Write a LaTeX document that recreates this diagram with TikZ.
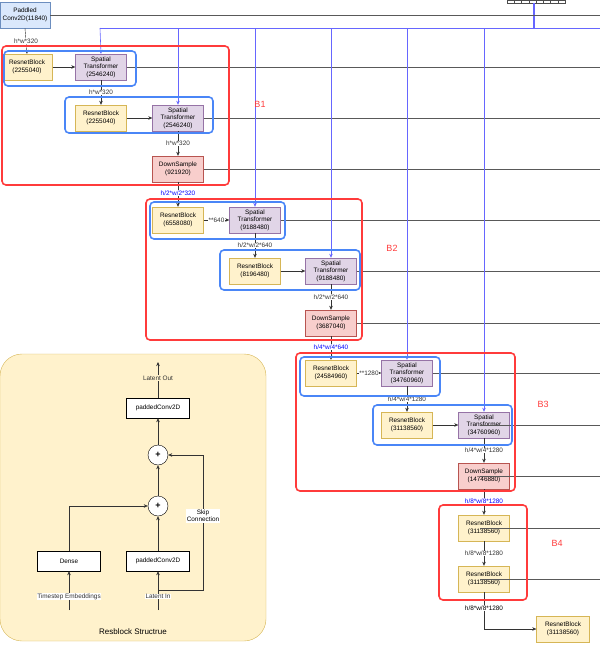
\documentclass[tikz,border=0pt]{standalone}
\usepackage{fontspec}
\setmainfont{Liberation Sans}
\usetikzlibrary{arrows.meta}
\definecolor{rbf}{HTML}{FFF2CC}\definecolor{rbd}{HTML}{D6B656}
\definecolor{stf}{HTML}{E1D5E7}\definecolor{std}{HTML}{9673A6}
\definecolor{dsf}{HTML}{F8CECC}\definecolor{dsd}{HTML}{B85450}
\definecolor{pcf}{HTML}{DAE8FC}\definecolor{pcd}{HTML}{6C8EBF}
\definecolor{redb}{HTML}{FF3B3B}\definecolor{blueb}{HTML}{4A86F7}\definecolor{bl}{HTML}{6666FF}
\begin{document}
\begin{tikzpicture}[x=1pt,y=-1pt,
 box/.style={draw,minimum width=51pt,minimum height=26pt,inner sep=0pt,align=center,font=\fontsize{6.4}{7.6}\selectfont},
 rb/.style={box,fill=rbf,draw=rbd},
 st/.style={box,fill=stf,draw=std},
 ds/.style={box,fill=dsf,draw=dsd},
 arr/.style={-{Stealth[length=4pt,width=3.5pt]},black!80},
 gl/.style={gray!70!black,line width=0.6pt},
 bll/.style={bl,line width=0.6pt},
 lab/.style={font=\fontsize{6.4}{7.4}\selectfont,fill=white,inner sep=0.5pt},
 blab/.style={font=\fontsize{6.4}{7.4}\selectfont,text=blue,fill=white,inner sep=0.5pt},
 red/.style={draw=redb,line width=1.6pt,rounded corners=4pt},
 blu/.style={draw=blueb,line width=1.6pt,rounded corners=4pt},
 wb/.style={draw,fill=white,minimum width=63pt,minimum height=20pt,inner sep=0pt,font=\fontsize{6.4}{7.4}\selectfont},
 pl/.style={draw,fill=white,circle,minimum size=20pt,inner sep=0pt,font=\bfseries\small}]
\useasboundingbox (0,0) rectangle (600,646);
% top grid
\foreach \i in {0,...,7}{\draw[black!70,line width=0.4pt] (507+\i*7.25,0) rectangle ++(7.25,3);}
\coordinate (gb) at (534,3);
\draw[bl,line width=2pt] (gb) -- (534,28);
\draw[bll] (100,28) -- (600,28);
% padded
\node[box,fill=pcf,draw=pcd,minimum width=50pt] (pc) at (25,15) {Paddled\\Conv2D(11840)};
\draw[gl] (pc.east) -- (600,15);
% feature lines
\foreach \y in {67,118,169,220,271,323,373,425,476,528,579}{\draw[gl] (480,\y) -- (600,\y);}
% B1
\node[rb] (r11) at (27,67) {ResnetBlock\\(2255040)};
\node[st] (s11) at (101,67) {Spatial\\Transformer\\(2546240)};
\node[rb] (r12) at (101,118) {ResnetBlock\\(2255040)};
\node[st] (s12) at (178,118) {Spatial\\Transformer\\(2546240)};
\node[ds] (d1) at (178,169) {DownSample\\(921920)};
% B2
\node[rb] (r21) at (178,220) {ResnetBlock\\(6558080)};
\node[st] (s21) at (255,220) {Spatial\\Transformer\\(9188480)};
\node[rb] (r22) at (255,271) {ResnetBlock\\(8196480)};
\node[st] (s22) at (331,271) {Spatial\\Transformer\\(9188480)};
\node[ds] (d2) at (331,323) {DownSample\\(3687040)};
% B3
\node[rb] (r31) at (331,373) {ResnetBlock\\(24584960)};
\node[st] (s31) at (407,373) {Spatial\\Transformer\\(34760960)};
\node[rb] (r32) at (407,425) {ResnetBlock\\(31138560)};
\node[st] (s32) at (484,425) {Spatial\\Transformer\\(34760960)};
\node[ds] (d3) at (484,476) {DownSample\\(14746880)};
% B4
\node[rb] (r41) at (484,528) {ResnetBlock\\(31138560)};
\node[rb] (r42) at (484,579) {ResnetBlock\\(31138560)};
\node[rb,minimum width=53pt] (r5) at (563,629) {ResnetBlock\\(31138560)};
% gray outputs
\foreach \n/\y in {s11/67,s12/118,d1/169,s21/220,s22/271,d2/323,s31/373,s32/425,d3/476,r41/528,r42/579}{\draw[gl] (\n.east) -- (480,\y);}
% blue drops
\foreach \n/\x in {s11/100,s12/178,s21/255,s22/331,s31/407,s32/484}{\draw[bll,-{Stealth[length=4pt,width=3.5pt]}] (\x,28) -- (\n.north);}
% arrows
\draw[arr] (pc.south) -- (r11.north) node[lab,pos=0.5] {h*w*320};
\draw[arr] (r11) -- (s11);
\draw[arr] (s11) -- (r12) node[lab,pos=0.5] {h*w*320};
\draw[arr] (r12) -- (s12);
\draw[arr] (s12) -- (d1) node[lab,pos=0.5] {h*w*320};
\draw[arr] (d1) -- (r21) node[blab,pos=0.45] {h/2*w/2*320};
\draw[arr] (r21) -- (s21) node[lab,pos=0.5] {**640};
\draw[arr] (s21) -- (r22) node[lab,pos=0.5] {h/2*w/2*640};
\draw[arr] (r22) -- (s22);
\draw[arr] (s22) -- (d2) node[lab,pos=0.5] {h/2*w/2*640};
\draw[arr] (d2) -- (r31) node[blab,pos=0.45] {h/4*w/4*640};
\draw[arr] (r31) -- (s31) node[lab,pos=0.5] {**1280};
\draw[arr] (s31) -- (r32) node[lab,pos=0.5] {h/4*w/4*1280};
\draw[arr] (r32) -- (s32);
\draw[arr] (s32) -- (d3) node[lab,pos=0.5] {h/4*w/4*1280};
\draw[arr] (d3) -- (r41) node[blab,pos=0.45] {h/8*w/8*1280};
\draw[arr] (r41) -- (r42) node[lab,pos=0.5] {h/8*w/8*1280};
\draw[arr] (r42.south) -- (484,629) -- (r5.west);
\node[lab] at (484,608) {h/8*w/8*1280};
% frames
\draw[red] (2,46) rectangle (229,185);
\draw[blu] (4,51) rectangle (136,86);
\draw[blu] (65,97) rectangle (213,133);
\node[text=redb,font=\small] (b1) at (260,104) {B1};
\draw[red] (146,199) rectangle (362,340);
\draw[blu] (150,202) rectangle (285,239);
\draw[blu] (220,250) rectangle (360,290);
\node[text=redb,font=\small] (b2) at (392,248) {B2};
\draw[red] (296,353) rectangle (515,491);
\draw[blu] (300,357) rectangle (440,396);
\draw[blu] (373,405) rectangle (512,445);
\node[text=redb,font=\small] (b3) at (543,404) {B3};
\draw[red] (439,505) rectangle (527,600);
\node[text=redb,font=\small] (b4) at (557,543) {B4};
% Resblock panel
\draw[fill=rbf,draw=rbd,rounded corners=22pt] (0,354) rectangle (266,641);
\node[font=\footnotesize] (title) at (133,632) {Resblock Structrue};
\node[wb] (pt) at (158,408) {paddedConv2D};
\node[pl] (p1) at (158,455) {+};
\node[pl] (p2) at (158,506) {+};
\node[wb] (dn) at (69,561) {Dense};
\node[wb] (pb) at (158,561) {paddedConv2D};
\coordinate (lo) at (158,362);
\coordinate (ti) at (69,610);
\coordinate (li) at (158,610);
\draw[arr] (pt) -- (lo) node[lab,fill=rbf,pos=0.55] {Latent Out};
\draw[arr] (p1) -- (pt);
\draw[arr] (p2) -- (p1);
\draw[arr] (pb) -- (p2);
\draw[arr] (dn.north) -- (69,506) -- (p2.west);
\draw[arr] (ti) -- (dn.south) node[lab,pos=0.35] {Timestep Embeddings};
\draw[arr] (li) -- (pb.south) node[lab,pos=0.35] {Latent In};
\draw[arr] (158,590) -- (203,590) -- (203,455) -- (p1.east);
\node[lab,align=center] at (203,516) {Skip\\Connection};
\end{tikzpicture}
\end{document}
